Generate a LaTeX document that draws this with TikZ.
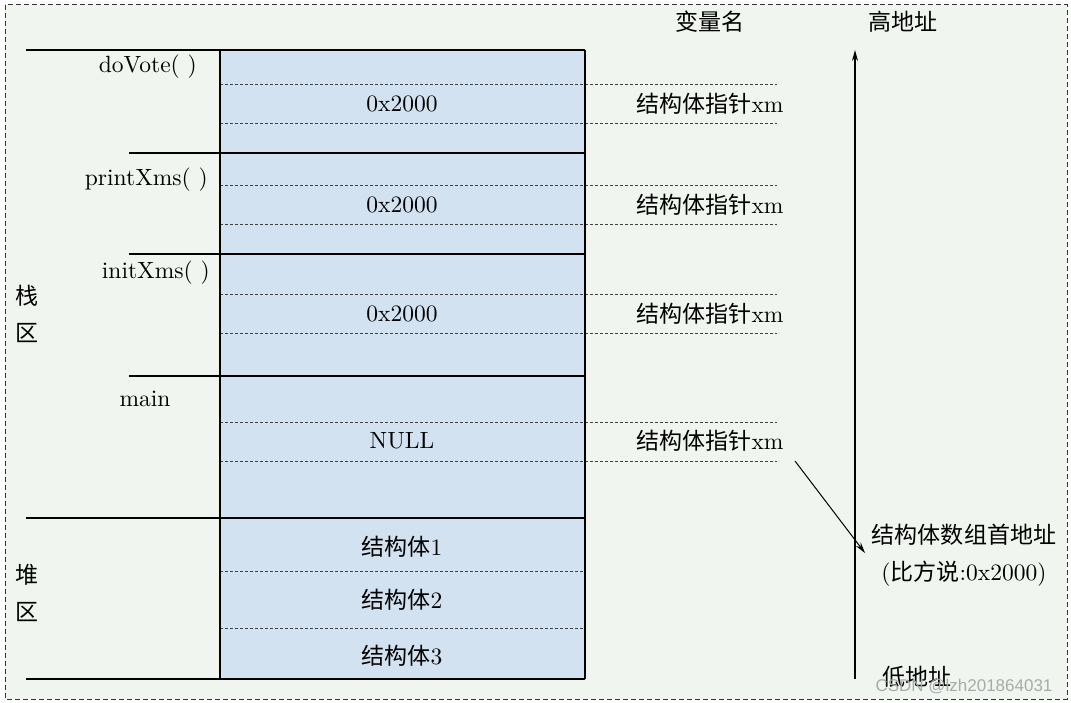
\documentclass[tikz,border=0pt]{standalone}
\usepackage{fontspec}
\setmainfont{lmroman10-regular}[Extension=.otf]
\usetikzlibrary{arrows.meta}
\newfontfamily\cjk[Scale=0.98]{Noto Sans CJK SC}
\newfontfamily\wmfont{Liberation Sans}
\definecolor{bgcol}{RGB}{240,246,239}
\definecolor{boxcol}{RGB}{211,226,240}
\definecolor{wmcol}{RGB}{170,170,170}
\tikzset{
  lbl/.style={inner sep=0pt, font=\fontsize{23.5}{28}\selectfont},
  solidline/.style={line width=1.1pt, draw=black},
  dashline/.style={line width=0.7pt, draw=black!75, dash pattern=on 3pt off 2pt},
  frame/.style={line width=1pt, draw=black!80, dash pattern=on 5pt off 3pt},
  arr/.style={line width=1.1pt, -{Stealth[length=11pt,width=6pt]}}
}
\begin{document}
\begin{tikzpicture}[x=1pt,y=-1pt]
\useasboundingbox (0,0) rectangle (1071,703);
% frame
\path[fill=bgcol] (5,5) rectangle (1067,699);
\draw[frame] (5,5) rectangle (1067,699);
% memory column
\fill[boxcol] (220,50) rectangle (585,679);
% dashed lines (stack, extending to names)
\foreach \y in {84,123,185,224,294,333,422,461}
  \draw[dashline] (220,\y) -- (777,\y);
% heap dashed lines
\foreach \y in {571,628}
  \draw[dashline] (220,\y) -- (585,\y);
% solid lines
\draw[solidline] (26,50) -- (585,50);
\draw[solidline] (129,153) -- (585,153);
\draw[solidline] (129,254) -- (585,254);
\draw[solidline] (129,376) -- (585,376);
\draw[solidline] (26,518) -- (585,518);
\draw[solidline] (26,679) -- (585,679);
\draw[solidline] (220,50) -- (220,679);
\draw[solidline] (585,50) -- (585,679);
% function labels
\node[lbl, anchor=east] (fdovote) at (197,67) {doVote( )};
\node[lbl, anchor=east] (fprint) at (208,180) {printXms( )};
\node[lbl, anchor=east] (finit) at (210,273) {initXms( )};
\node[lbl] (fmain) at (145,399) {main};
% values
\node[lbl] (v1) at (402,104) {0x2000};
\node[lbl] (v2) at (402,205) {0x2000};
\node[lbl] (v3) at (402,314) {0x2000};
\node[lbl] (v4) at (402,441) {NULL};
\node[lbl] (s1) at (402,547) {{\cjk 结构体}1};
\node[lbl] (s2) at (402,600) {{\cjk 结构体}2};
\node[lbl] (s3) at (402,656) {{\cjk 结构体}3};
% area labels
\node[lbl] (zhan) at (27,296) {\cjk 栈};
\node[lbl] (qu1) at (27,333) {\cjk 区};
\node[lbl] (dui) at (27,575) {\cjk 堆};
\node[lbl] (qu2) at (27,612) {\cjk 区};
% headers
\node[lbl] (hvar) at (710,22) {\cjk 变量名};
\node[lbl] (hhigh) at (903,22) {\cjk 高地址};
% variable names
\node[lbl] (n1) at (710,104) {{\cjk 结构体指针}xm};
\node[lbl] (n2) at (710,205) {{\cjk 结构体指针}xm};
\node[lbl] (n3) at (710,314) {{\cjk 结构体指针}xm};
\node[lbl] (n4) at (710,441) {{\cjk 结构体指针}xm};
% address labels
\node[lbl] (addr) at (964,535) {\cjk 结构体数组首地址};
\node[lbl] (addr2) at (964,574) {({\cjk 比方说}:0x2000)};
\node[lbl] (low) at (917,677) {\cjk 低地址};
% address axis
\coordinate (axbot) at (855,679);
\coordinate (axtop) at (855,50);
\draw[arr] (axbot) -- (axtop);
% pointer arrow
\coordinate (pstart) at (795,461);
\coordinate (pend) at (865,553);
\draw[arr, line width=1pt] (pstart) -- (pend);
% watermark
\node[inner sep=0pt, text=wmcol, font=\wmfont\fontsize{17}{20}\selectfont] (wm) at (964,687) {CSDN @lzh201864031};
\end{tikzpicture}
\end{document}
